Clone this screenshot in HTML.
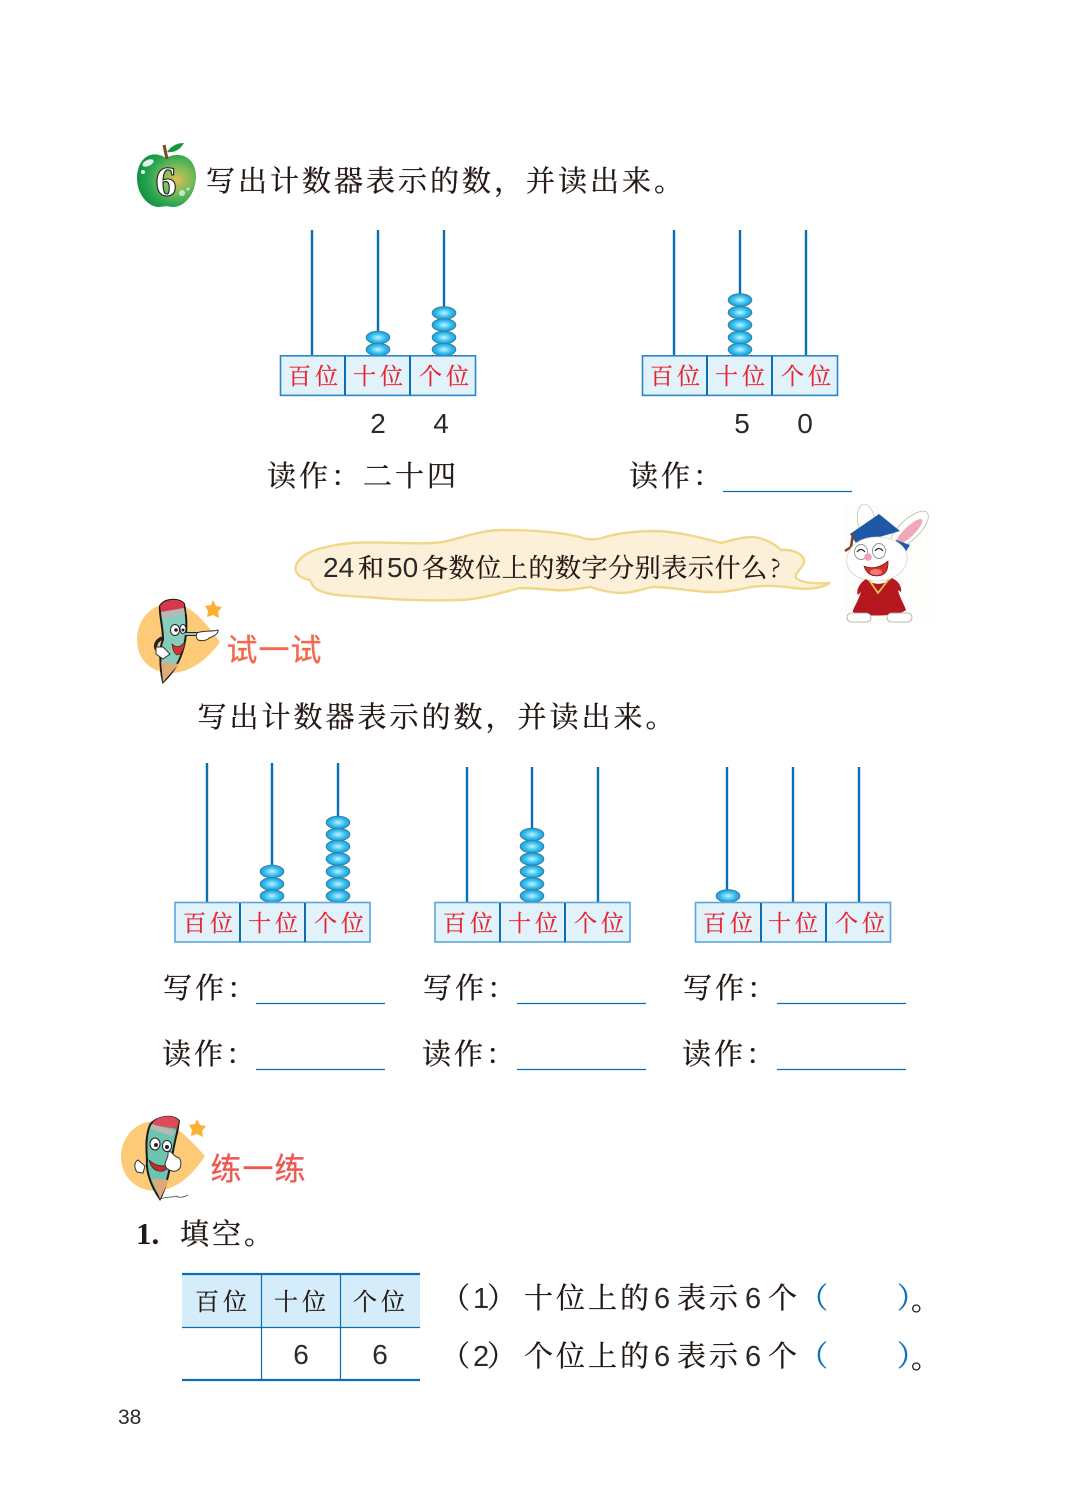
<!DOCTYPE html>
<html lang="zh"><head><meta charset="utf-8"><title>写出计数器表示的数</title>
<style>
html,body{margin:0;padding:0;background:#fff}
svg{display:block;position:absolute;left:0;top:0}
text{font-family:"Noto Serif CJK SC","Liberation Serif",serif;fill:#231815}
.h{font-size:29px;letter-spacing:3px;stroke:#231815;stroke-width:.3}
.n{font-family:"Liberation Sans","Noto Sans CJK SC",sans-serif;fill:#2a2a2a}
.l{font-size:23px;fill:#e8232f;letter-spacing:4px;stroke:#e8232f;stroke-width:.25}
.t{font-size:29px;letter-spacing:3px;stroke:#231815;stroke-width:.3}
.d{font-size:24px;letter-spacing:4px;stroke:#231815;stroke-width:.25}
.r{font-size:29px;stroke:#231815;stroke-width:.3}
.rod{stroke:#0a6eb4;stroke-width:2.4}
.box{fill:#e1f2fb;stroke:#2b86c8;stroke-width:1.6}
.div{stroke:#0a6eb4;stroke-width:2}
.u{stroke:#0a6eb4;stroke-width:1.2}
</style></head><body>
<svg width="1065" height="1508" viewBox="0 0 1065 1508" xmlns="http://www.w3.org/2000/svg">
<defs>
<radialGradient id="b" cx=".5" cy=".5" r=".6"><stop offset="0" stop-color="#c4f0ff"/><stop offset=".55" stop-color="#2fbdf0"/><stop offset="1" stop-color="#0d8fce"/></radialGradient>
<radialGradient id="ap" cx=".68" cy=".48" r=".7"><stop offset="0" stop-color="#e0be55"/><stop offset=".35" stop-color="#7dbb58"/><stop offset=".7" stop-color="#2aa552"/><stop offset="1" stop-color="#0c8f3f"/></radialGradient>
<ellipse id="bd" rx="11.8" ry="6.2" fill="url(#b)" stroke="#3d7f9e" stroke-width="1"/>
</defs>
<rect width="1065" height="1508" fill="#fff"/>

<!-- Apple -->
<path d="M166 158C150 148 137 160 137 178C137 196 150 208 160 207C164 206 168 206 172 207C184 208 196 194 196 176C196 158 180 150 166 158Z" fill="url(#ap)"/>
<ellipse cx="148" cy="163" rx="6" ry="3" fill="#dff5e5" transform="rotate(-25 148 163)"/>
<circle cx="143" cy="172" r="2" fill="#dff5e5"/>
<circle cx="182" cy="193" r="3" fill="#bfe8d8"/>
<circle cx="188" cy="189" r="1.500" fill="#bfe8d8"/>
<path d="M164 145L167 159" stroke="#7a4a22" stroke-width="3" fill="none"/>
<path d="M167 152C172 145 178 143 184 143C180 150 174 153 167 152Z" fill="#14983f"/>
<text x="166" y="196" text-anchor="middle" style="font-family:'Liberation Serif',serif;font-size:42px;font-weight:bold;fill:#fff;stroke:#222;stroke-width:1.100">6</text>
<text x="206" y="191" class="h">写出计数器表示的数，并读出来。</text>

<!-- Abacus 1 -->
<g>
<path class="rod" d="M312 230V356M378 230V356M444 230V356"/>
<use href="#bd" x="378" y="337.5"/><use href="#bd" x="378" y="349.5"/>
<use href="#bd" x="444" y="313"/><use href="#bd" x="444" y="325"/><use href="#bd" x="444" y="337.5"/><use href="#bd" x="444" y="349.5"/>
<rect class="box" x="280.5" y="355.8" width="195" height="39.6"/>
<path class="div" d="M345 356V395M410 356V395"/>
<text x="288" y="384" class="l">百位</text><text x="353" y="384" class="l">十位</text><text x="419" y="384" class="l">个位</text>
</g>
<text x="378" y="433" text-anchor="middle" class="n" font-size="28">2</text>
<text x="441" y="433" text-anchor="middle" class="n" font-size="28">4</text>
<text x="267" y="486" class="t">读作：</text><text x="363" y="486" class="t">二十四</text>

<!-- Abacus 2 -->
<g>
<path class="rod" d="M674 230V356M740 230V356M806 230V356"/>
<use href="#bd" x="740" y="300"/><use href="#bd" x="740" y="312.5"/><use href="#bd" x="740" y="325"/><use href="#bd" x="740" y="337.5"/><use href="#bd" x="740" y="349.5"/>
<rect class="box" x="642.5" y="355.8" width="195" height="39.6"/>
<path class="div" d="M707 356V395M772 356V395"/>
<text x="650" y="384" class="l">百位</text><text x="715" y="384" class="l">十位</text><text x="781" y="384" class="l">个位</text>
</g>
<text x="742" y="433" text-anchor="middle" class="n" font-size="28">5</text>
<text x="805" y="433" text-anchor="middle" class="n" font-size="28">0</text>
<text x="629" y="486" class="t">读作：</text>
<path class="u" d="M723 491.5H852"/>

<!-- Speech bubble -->
<path d="M295.500 567C300 552 320 548 336 545C370 539 415 546 443 542C465 537 482 530 503 530C530 530 560 532 580 537C588 540 597 540 605 537C622 532 640 531 657 531C680 532 703 538 721 543C733 540 748 535 759 538C770 541 776 545 781 550C794 549 805 555 804 562C803 569 794 572 796 578C802 583 815 584 830 583C822 588 808 590 794 588C780 586 765 585 751 587C737 590 722 593 708 592C688 591 672 587 652 587C642 589 633 593 622 593C610 593 600 590 590 587C578 589 566 591 554 590C542 589 532 588 520 588C500 593 482 599 460 600C425 601 395 600 366 597C350 596 335 596 323 592C314 589 312 585 310 580C300 578 295 574 295.500 567Z" fill="#fdf0d8" stroke="#f0d78a" stroke-width="2.4"/>
<g>
<text x="323" y="577" class="n" font-size="28">24</text>
<text x="358" y="577" font-size="26" style="stroke:#231815;stroke-width:.25">和</text>
<text x="387" y="577" class="n" font-size="28">50</text>
<text x="422" y="577" font-size="26" letter-spacing=".6" style="stroke:#231815;stroke-width:.25">各数位上的数字分别表示什么</text>
<text x="770" y="577" font-size="25">?</text>
</g>

<!-- Rabbit -->
<g>
<rect x="845" y="505" width="85" height="118" fill="#fdfdfb"/>
<ellipse cx="866" cy="520" rx="8.500" ry="16" fill="#fff" stroke="#c9c6b8" stroke-width=".8" transform="rotate(-8 866 520)"/>
<ellipse cx="909" cy="530" rx="10" ry="25" fill="#fff" stroke="#bdb9aa" stroke-width=".8" transform="rotate(46 909 530)"/>
<ellipse cx="909" cy="532" rx="5" ry="18" fill="#f0a8b8" transform="rotate(46 909 532)"/>
<path d="M896 540L910 545L905 553L894 548Z" fill="#1f5aa8"/>
<path d="M850 534L879 514L900 531L876 538L856 543Z" fill="#2058a8"/>
<path d="M853 534L851 547M851 547L845 551" stroke="#8a3a1d" stroke-width="2.500" fill="none"/>
<path d="M847 558C849 545 861 537 877 537C895 537 908 547 907 559C906 573 892 581 876 581C859 581 845 572 847 558Z" fill="#fff" stroke="#d8d6cc" stroke-width=".8"/>
<ellipse cx="861" cy="552" rx="6.500" ry="7.500" fill="#fff" stroke="#8f8f8f" stroke-width=".9"/>
<ellipse cx="879" cy="551" rx="6.500" ry="7.500" fill="#fff" stroke="#8f8f8f" stroke-width=".9"/>
<path d="M857 552Q861 547 865 552M875 551Q879 546 883 551" stroke="#333" stroke-width="1.200" fill="none"/>
<circle cx="868" cy="557" r="3.800" fill="#f0a0b0"/>
<path d="M864 566Q876 571 888 561Q889 576 877 576Q867 576 864 566Z" fill="#d62d28" stroke="#5a1a15" stroke-width=".6"/>
<ellipse cx="876" cy="572" rx="6" ry="3" fill="#f07a78"/>
<path d="M866 579C858 584 856 592 858 595L861 592C857 604 852 610 853 612C860 617 898 617 906 610C903 602 899 596 898 590L901 592C902 586 898 581 892 578C885 585 874 586 866 579Z" fill="#b5171f"/>
<path d="M869 580L878 593L889 579" stroke="#e8c64a" stroke-width="1.800" fill="none"/>
<rect x="847" y="613" width="24" height="9" rx="4.500" fill="#fff" stroke="#a8a698" stroke-width=".8"/>
<rect x="887" y="613" width="25" height="9" rx="4.500" fill="#fff" stroke="#a8a698" stroke-width=".8"/>
</g>

<!-- Pencil 1 -->
<g>
<path d="M137 640C137 618 153 603 172 603C190 603 207 624 220 642C207 660 190 673 170 673C152 673 137 660 137 640Z" fill="#fdcb78"/>
<path d="M213 600L216 606L222 607L218 612L219 618L213 615L207 617L208 611L205 606L211 605Z" fill="#fbb034"/>
<path d="M160 606C165 598 180 598 184 604L186 616C188 640 182 665 163 682C159 665 160 645 163 640C163 625 159 615 160 606Z" fill="#86cdbc" stroke="#1a1a1a" stroke-width="2"/>
<path d="M160 606C165 598 180 598 184 604L184 609L161 612Z" fill="#d63a4a"/>
<path d="M161 612L184 608L185 614L162 618Z" fill="#b8b8b8"/>
<path d="M161 662L179 664L163 682Z" fill="#dfaa78"/>
<ellipse cx="175" cy="630" rx="4.500" ry="5.500" fill="#fff" stroke="#222"/><ellipse cx="183" cy="629" rx="3" ry="4.500" fill="#fff" stroke="#222"/>
<circle cx="176" cy="630" r="1.800" fill="#222"/><circle cx="183" cy="630" r="1.500" fill="#222"/>
<path d="M172 644Q178 650 185 642Q183 655 177 655Q173 653 172 644Z" fill="#d8302a" stroke="#222" stroke-width=".6"/>
<path d="M185 634H198" stroke="#222" stroke-width="4"/><path d="M185 634H198" stroke="#86cdbc" stroke-width="2"/>
<path d="M197 633C202 630 212 632 218 630C219 634 212 637 209 638C207 641 200 641 198 640C196 638 196 635 197 633Z" fill="#fff" stroke="#333" stroke-width="1"/>
<path d="M162 638C156 641 154 646 157 650" stroke="#222" stroke-width="3.500" fill="none"/>
<path d="M156 647L163 647L170 654L163 659L156 654Z" fill="#fff" stroke="#333"/>
</g>
<text x="226.500" y="661" font-size="31" letter-spacing="1" style="fill:#f4694f;font-family:'Noto Sans CJK SC',sans-serif;stroke:#f4694f;stroke-width:.3">试一试</text>

<text x="197.500" y="727" class="h">写出计数器表示的数，并读出来。</text>

<!-- Abacus row -->
<g>
<path class="rod" d="M207 763V903M272 763V903M338 763V903"/>
<use href="#bd" x="272" y="871.500"/><use href="#bd" x="272" y="884"/><use href="#bd" x="272" y="896"/>
<use href="#bd" x="338" y="822.500"/><use href="#bd" x="338" y="834.500"/><use href="#bd" x="338" y="846.500"/><use href="#bd" x="338" y="859"/><use href="#bd" x="338" y="871.500"/><use href="#bd" x="338" y="884"/><use href="#bd" x="338" y="896"/>
<rect class="box" x="175" y="902.500" width="195" height="39.500" style="stroke:#5aa6da"/>
<path class="div" d="M240 903V942M305 903V942"/>
<text x="183" y="931" class="l">百位</text><text x="248" y="931" class="l">十位</text><text x="314" y="931" class="l">个位</text>
</g>
<g>
<path class="rod" d="M467 767V903M532 767V903M598 767V903"/>
<use href="#bd" x="532" y="834.500"/><use href="#bd" x="532" y="846.500"/><use href="#bd" x="532" y="859"/><use href="#bd" x="532" y="871.500"/><use href="#bd" x="532" y="884"/><use href="#bd" x="532" y="896"/>
<rect class="box" x="435" y="902.500" width="195" height="39.500" style="stroke:#5aa6da"/>
<path class="div" d="M500 903V942M565 903V942"/>
<text x="443" y="931" class="l">百位</text><text x="508" y="931" class="l">十位</text><text x="574" y="931" class="l">个位</text>
</g>
<g>
<path class="rod" d="M727 767V903M793 767V903M859 767V903"/>
<use href="#bd" x="728" y="896"/>
<rect class="box" x="695.500" y="902.500" width="195" height="39.500" style="stroke:#5aa6da"/>
<path class="div" d="M761 903V942M826 903V942"/>
<text x="703" y="931" class="l">百位</text><text x="768" y="931" class="l">十位</text><text x="835" y="931" class="l">个位</text>
</g>

<text x="163" y="998" class="t">写作：</text><text x="423" y="998" class="t">写作：</text><text x="683" y="998" class="t">写作：</text>
<path class="u" d="M256 1003.500H385M517 1003.500H646M777 1003.500H906"/>
<text x="162" y="1064" class="t">读作：</text><text x="422" y="1064" class="t">读作：</text><text x="682" y="1064" class="t">读作：</text>
<path class="u" d="M256 1069.500H385M517 1069.500H646M777 1069.500H906"/>

<!-- Pencil 2 -->
<g>
<path d="M121 1157C121 1136 137 1121 155 1121C175 1121 192 1142 205 1156C192 1176 175 1191 155 1191C137 1191 121 1177 121 1157Z" fill="#fdcb78"/>
<path d="M197 1119L200 1125L206 1126L202 1131L203 1137L197 1134L191 1136L192 1130L189 1125L195 1124Z" fill="#fbb034"/>
<path d="M150 1125C156 1116 174 1114 179 1121L177 1133C172 1150 170 1180 160 1199C150 1185 146 1170 147 1160C146 1145 146 1135 150 1125Z" fill="#6fc4b0" stroke="#1a1a1a" stroke-width="2"/>
<path d="M153 1122C160 1115 174 1114 179 1121L177 1129L153 1125Z" fill="#dc4a58"/>
<path d="M152 1124L175 1131L172 1136L150 1129Z" fill="#b8b8b8"/>
<path d="M152 1179L169 1180L160 1199Z" fill="#dfaa78"/>
<ellipse cx="155" cy="1144" rx="5" ry="6" fill="#fff" stroke="#222"/><ellipse cx="167" cy="1146" rx="4.500" ry="5.500" fill="#fff" stroke="#222"/>
<circle cx="156" cy="1145" r="2" fill="#222"/><circle cx="167" cy="1147" r="2" fill="#222"/>
<path d="M149 1160Q160 1170 171 1163Q166 1173 158 1171Q151 1169 149 1160Z" fill="#c92a2a" stroke="#222" stroke-width=".6"/>
<path d="M168 1152C172 1150 173 1156 177 1157C182 1158 182 1168 178 1170C174 1173 166 1170 165 1165C165 1160 169 1158 168 1152Z" fill="#fff" stroke="#333"/>
<path d="M138 1160C134 1162 134 1168 137 1172L143 1173L145 1166Z" fill="#fff" stroke="#333"/>
<path d="M160 1199C168 1196 172 1198 176 1196C180 1199 186 1196 188 1195" stroke="#444" stroke-width=".8" fill="none"/>
</g>
<text x="210.500" y="1180" font-size="31" letter-spacing="1" style="fill:#f0584f;font-family:'Noto Sans CJK SC',sans-serif;stroke:#f0584f;stroke-width:.3">练一练</text>

<text x="136" y="1244" style="font-family:'Liberation Serif',serif;font-weight:bold;font-size:31px">1.</text>
<text x="180" y="1244" class="t">填空。</text>

<!-- Table -->
<rect x="182" y="1274" width="238" height="53" fill="#d5edfa"/>
<path d="M182 1274H420M182 1380H420" stroke="#0a6eb4" stroke-width="2.200"/>
<path d="M182 1327.500H420M261.500 1274V1380M340.500 1274V1380" stroke="#0a6eb4" stroke-width="1.200"/>
<text x="195" y="1310" class="d">百位</text><text x="274" y="1310" class="d">十位</text><text x="353" y="1310" class="d">个位</text>
<text x="301" y="1364" text-anchor="middle" class="n" font-size="28">6</text>
<text x="380" y="1364" text-anchor="middle" class="n" font-size="28">6</text>

<!-- Right questions -->
<g>
<text x="441" y="1308" class="r">（</text><text x="473" y="1308" class="n" font-size="29">1</text><text x="487" y="1308" class="r">）</text>
<text x="524" y="1308" class="r" letter-spacing="3">十位上的</text>
<text x="654" y="1308" class="n" font-size="29">6</text>
<text x="677" y="1308" class="r" letter-spacing="3">表示</text>
<text x="745" y="1308" class="n" font-size="29">6</text>
<text x="768" y="1308" class="r">个</text>
<text x="799" y="1308" class="r" style="fill:#0a6eb4;stroke:#0a6eb4">（</text>
<text x="897" y="1308" class="r" style="fill:#0a6eb4;stroke:#0a6eb4">）</text>
<text x="911" y="1310" class="r">。</text>

<text x="441" y="1366" class="r">（</text><text x="473" y="1366" class="n" font-size="29">2</text><text x="487" y="1366" class="r">）</text>
<text x="524" y="1366" class="r" letter-spacing="3">个位上的</text>
<text x="654" y="1366" class="n" font-size="29">6</text>
<text x="677" y="1366" class="r" letter-spacing="3">表示</text>
<text x="745" y="1366" class="n" font-size="29">6</text>
<text x="768" y="1366" class="r">个</text>
<text x="799" y="1366" class="r" style="fill:#0a6eb4;stroke:#0a6eb4">（</text>
<text x="897" y="1366" class="r" style="fill:#0a6eb4;stroke:#0a6eb4">）</text>
<text x="911" y="1368" class="r">。</text>
</g>

<text x="118" y="1424" class="n" font-size="21">38</text>
</svg>
</body></html>
